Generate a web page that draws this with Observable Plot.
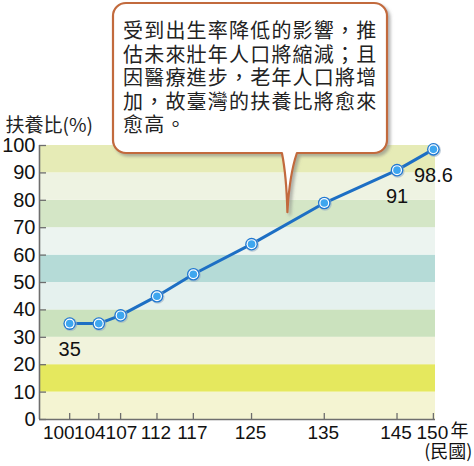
<!DOCTYPE html>
<html><head><meta charset="utf-8">
<script src="https://cdn.jsdelivr.net/npm/d3@7"></script>
<script src="https://cdn.jsdelivr.net/npm/@observablehq/plot@0.6"></script>
<style>
html,body{margin:0;padding:0;background:#fff;}
#chart svg{display:block;}
</style></head><body><div id="chart"></div>
<script>
// ---- data ----
const years = [100, 104, 107, 112, 117, 125, 135, 145, 150];
const ratios = [35, 35, 38, 45, 53, 64, 79, 91, 98.6];
const labeledYears = [100, 145, 150];
const yTicks = [0, 10, 20, 30, 40, 50, 60, 70, 80, 90, 100];
const xTicks = [100, 104, 107, 112, 117, 125, 135, 145, 150];
const bandColors = ["#f4f4d2", "#e5e85e", "#f1f3dc", "#cbe2be", "#e5f1ee", "#b5dbd7", "#ecf4f0", "#d4e6c6", "#eef3e2", "#e6ebb6"];
const yLabel = "扶養比(%)";
const xUnit = "年";
const xEra = "(民國)";
const noteLines = ["受到出生率降低的影響，推", "估未來壯年人口將縮減；且", "因醫療進步，老年人口將增", "加，故臺灣的扶養比將愈來", "愈高。"];
const notePoint = {year: 130, ratio: 75.5};

// ---- derived tables ----
const data = years.map((year, i) => ({year, ratio: ratios[i]}));
const bands = bandColors.map((color, i) => ({y1: yTicks[i], y2: yTicks[i + 1], color}));
const labeled = data.filter(d => labeledYears.includes(d.year));

const W = 474, H = 466, mL = 39, mR = 39, mT = 145, mB = 47;
const xDomain = [95.85, 150.29];
const numFont = "'Liberation Sans', Arial, sans-serif";
const cjkFont = "'Noto Sans CJK TC', 'Noto Sans CJK SC', sans-serif";
const axisColor = "#6e6e6e";
const tickFont = {fontSize: 19, fontFamily: numFont, fill: "#111", tickSize: 0, tickPadding: 6, label: null};

const chart = Plot.plot({
  width: W, height: H,
  marginLeft: mL, marginRight: mR, marginTop: mT, marginBottom: mB,
  style: {fontFamily: numFont, color: "#111", background: "#fff", overflow: "visible"},
  x: {type: "linear", domain: xDomain, label: null},
  y: {domain: [0, 100], label: null},
  color: {type: "identity"},
  marks: [
    Plot.rectY(bands, {y1: "y1", y2: "y2", fill: "color"}),
    // inward ticks
    Plot.tickY(yTicks, {y: d => d, stroke: axisColor, strokeWidth: 1.3, insetRight: (W - mL - mR) - 7}),
    Plot.tickX(xTicks, {x: d => d, stroke: axisColor, strokeWidth: 1.3, insetTop: (H - mT - mB) - 6}),
    Plot.ruleX([xDomain[0]], {stroke: axisColor, strokeWidth: 1.6}),
    Plot.ruleY([0], {stroke: axisColor, strokeWidth: 1.6}),
    // axes labels
    Plot.axisY(yTicks, {fontSize: 20, fontFamily: numFont, fill: "#111", tickSize: 0, tickPadding: 4, label: null}),
    Plot.axisX(xTicks.filter(t => t > 107), {...tickFont, dx: -1}),
    Plot.axisX([xTicks[0]], {...tickFont, textAnchor: "end", dx: 5}),
    Plot.axisX([xTicks[1]], {...tickFont, dx: -9}),
    Plot.axisX([xTicks[2]], {...tickFont, textAnchor: "start", dx: -15}),
    Plot.text([xTicks[xTicks.length - 1]], {x: d => d, frameAnchor: "bottom", text: () => xUnit, textAnchor: "start", lineAnchor: "middle", dx: 17, dy: 12, fontSize: 18, fontFamily: cjkFont, fill: "#111"}),
    Plot.text([xTicks[xTicks.length - 1]], {x: d => d, frameAnchor: "bottom", text: () => xEra, textAnchor: "end", lineAnchor: "middle", dx: 39, dy: 33, fontSize: 18, fontFamily: cjkFont, fill: "#111"}),
    Plot.text([yLabel], {frameAnchor: "top-left", textAnchor: "start", lineAnchor: "middle", dx: -34, dy: -20, fontSize: 19, fontFamily: cjkFont, fill: "#222"}),
    // series
    Plot.line(data, {x: "year", y: "ratio", stroke: "#1d6fc4", strokeWidth: 3}),
    Plot.dot(data, {x: "year", y: "ratio", r: 6.8, fill: "#9bb0c4", dx: 0.8, dy: 0.8, fillOpacity: 0.6}),
    Plot.dot(data, {x: "year", y: "ratio", r: 6.3, fill: "#1f78d1"}),
    Plot.dot(data, {x: "year", y: "ratio", r: 5, fill: "#ffffff"}),
    Plot.dot(data, {x: "year", y: "ratio", r: 3.8, fill: "#3ea6ef"}),
    Plot.text(labeled, {x: "year", y: "ratio", text: d => String(d.ratio), dy: 26, fontSize: 20, fontFamily: numFont, fill: "#111"})
  ]
});

// ---- speech bubble annotation ----
const sx = chart.scale("x"), sy = chart.scale("y");
const tipX = sx.apply(notePoint.year), tipY = sy.apply(notePoint.ratio);
const svg = d3.select(chart);
const defs = svg.append("defs");
const f = defs.append("filter").attr("id", "bshadow").attr("x", "-10%").attr("y", "-10%").attr("width", "130%").attr("height", "130%");
f.append("feDropShadow").attr("dx", 2.5).attr("dy", 2.5).attr("stdDeviation", 1.5).attr("flood-color", "#777").attr("flood-opacity", 0.55);

const L = 113, R = 387, T = 3, B = 153, r = 13;
const bL = tipX - 5.5, bR = tipX + 9.5;
const p = d3.path();
p.moveTo(L + r, T);
p.lineTo(R - r, T);
p.arcTo(R, T, R, T + r, r);
p.lineTo(R, B - r);
p.arcTo(R, B, R - r, B, r);
p.lineTo(bR, B);
p.quadraticCurveTo(tipX + 2, B + 22, tipX, tipY);
p.quadraticCurveTo(tipX - 1, B + 22, bL, B);
p.lineTo(L + r, B);
p.arcTo(L, B, L, B - r, r);
p.lineTo(L, T + r);
p.arcTo(L, T, L + r, T, r);
p.closePath();

const g = svg.append("g");
g.append("path").attr("d", p.toString()).attr("fill", "#fff").attr("stroke", "#c26a3c").attr("stroke-width", 2.2).attr("stroke-linejoin", "round").attr("filter", "url(#bshadow)");
const t = g.append("text").attr("font-family", cjkFont).attr("font-size", 20).attr("letter-spacing", 1.2).attr("fill", "#222").attr("text-anchor", "start");
noteLines.forEach((line, i) => {
  t.append("tspan").attr("x", 123).attr("y", 38 + i * 23.6).attr("text-anchor", "start").text(line);
});

document.getElementById("chart").appendChild(chart);
</script>
</body></html>
